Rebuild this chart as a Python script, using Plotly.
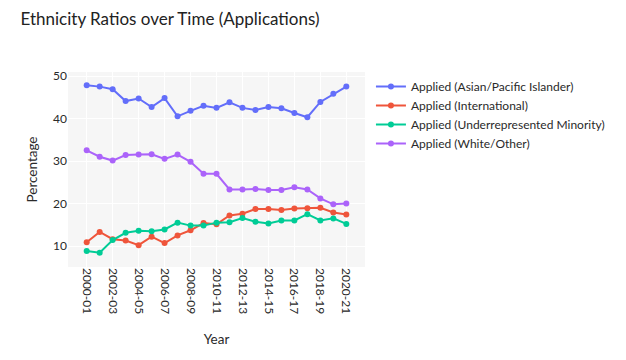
import plotly.graph_objects as go

years = ["2000-01","2001-02","2002-03","2003-04","2004-05","2005-06","2006-07","2007-08",
         "2008-09","2009-10","2010-11","2011-12","2012-13","2013-14","2014-15","2015-16",
         "2016-17","2017-18","2018-19","2019-20","2020-21"]

asian = [47.8,47.5,46.9,44.1,44.7,42.7,44.8,40.5,41.8,43.0,42.5,43.8,42.5,42.0,42.7,42.4,41.3,40.3,43.9,45.8,47.5]
intl = [10.9,13.3,11.6,11.3,10.2,12.2,10.7,12.5,13.7,15.4,15.1,17.2,17.6,18.7,18.7,18.5,18.8,18.9,19.0,17.9,17.4]
urm = [8.8,8.4,11.4,13.1,13.6,13.5,13.9,15.5,14.8,14.8,15.5,15.6,16.6,15.7,15.3,16.0,16.0,17.5,16.0,16.5,15.2]
white = [32.5,31.0,30.1,31.4,31.5,31.6,30.5,31.5,29.8,27.0,27.0,23.3,23.3,23.4,23.2,23.2,23.8,23.3,21.2,19.8,20.0]

names = ["Applied (Asian/Pacific Islander)", "Applied (International)",
         "Applied (Underrepresented Minority)", "Applied (White/Other)"]
colors = ["#636efa", "#ef553b", "#00cc96", "#ab63fa"]

fig = go.Figure()
for n, c, v in zip(names, colors, [asian, intl, urm, white]):
    fig.add_trace(go.Scatter(x=years, y=v, name=n, mode="lines+markers",
                             line=dict(color=c, width=2), marker=dict(size=6, color=c)))

fig.update_layout(
    width=626, height=360,
    font=dict(family="Lato, sans-serif", size=12, color="#2a2a2a"),
    title=dict(text="Ethnicity Ratios over Time (Applications)", x=0.02, xanchor="left",
               y=0.97, yanchor="middle", font=dict(size=17, color="#222")),
    paper_bgcolor="white", plot_bgcolor="#f6f6f6",
    margin=dict(l=60, r=269, t=64, b=101, autoexpand=False),
    legend=dict(x=1.02, y=1.0, xanchor="left", yanchor="top", font=dict(size=12),
                tracegroupgap=0),
)
fig.update_xaxes(type="category", title=dict(text="Year", font=dict(size=13.5), standoff=21),
                 tickangle=90, dtick=2, automargin=False,
                 range=[-1.44, 21.44], gridcolor="white", showline=False, zeroline=False,
                 tickfont=dict(size=12))
fig.update_yaxes(title=dict(text="Percentage", font=dict(size=13.5), standoff=12),
                 range=[5.06, 50.94],
                 dtick=10, gridcolor="white", zeroline=False, automargin=False,
                 tickfont=dict(size=12))

fig.write_html("out.html")
